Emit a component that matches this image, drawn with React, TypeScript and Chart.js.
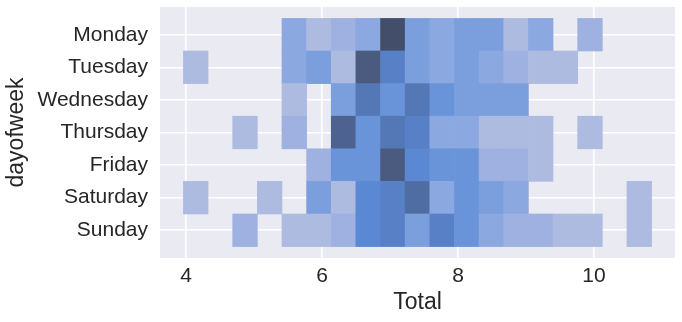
import React, { useEffect, useRef } from "react";
import { Chart, registerables } from "chart.js";

Chart.register(...registerables);

// ---- data ----
const days = ["Monday", "Tuesday", "Wednesday", "Thursday", "Friday", "Saturday", "Sunday"];
const binStart = 3.96;
const binWidth = 0.3625;
const mondayCounts = [0, 0, 0, 0, 3, 1, 2, 3, 12, 4, 3, 4, 4, 1, 3, 0, 2, 0, 0];
const tuesdayCounts = [1, 0, 0, 0, 3, 4, 1, 11, 7, 4, 3, 4, 3, 2, 1, 1, 0, 0, 0];
const wednesdayCounts = [0, 0, 0, 0, 1, 0, 4, 8, 5, 8, 5, 4, 4, 4, 0, 0, 0, 0, 0];
const thursdayCounts = [0, 0, 1, 0, 2, 0, 10, 5, 8, 7, 3, 3, 1, 1, 1, 0, 1, 0, 0];
const fridayCounts = [0, 0, 0, 0, 0, 2, 5, 5, 11, 6, 5, 5, 2, 2, 1, 0, 0, 0, 0];
const saturdayCounts = [1, 0, 0, 1, 0, 4, 1, 6, 7, 9, 3, 5, 4, 3, 0, 0, 0, 0, 1];
const sundayCounts = [0, 0, 2, 0, 1, 1, 2, 6, 7, 4, 7, 5, 3, 2, 2, 1, 1, 0, 1];
const countsByDay = [mondayCounts, tuesdayCounts, wednesdayCounts, thursdayCounts, fridayCounts, saturdayCounts, sundayCounts];
const xTicks = [4, 6, 8, 10];

// ---- style ----
const cmapStops = [
  "#ADBBE0", "#9FB1E0", "#8CA8E0", "#7B9EDD", "#6A94DA", "#5B88D2",
  "#5780C6", "#5477B6", "#4F6CA3", "#4D6290", "#4A5B7F", "#434E6A",
];
const FONT = "'Liberation Sans', Arial, sans-serif";
const TEXT = "#262626";

function hexToRgb(h: string) {
  const n = parseInt(h.slice(1), 16);
  return [(n >> 16) & 255, (n >> 8) & 255, n & 255];
}
function cmap(t: number) {
  const pos = Math.max(0, Math.min(1, t)) * (cmapStops.length - 1);
  const i = Math.min(Math.floor(pos), cmapStops.length - 2);
  const f = pos - i;
  const a = hexToRgb(cmapStops[i]);
  const b = hexToRgb(cmapStops[i + 1]);
  const c = a.map((v, k) => Math.round(v + (b[k] - v) * f));
  return `rgb(${c[0]},${c[1]},${c[2]})`;
}

const bgPlugin = {
  id: "bgPlugin",
  beforeDraw(chart: any) {
    const { ctx, chartArea } = chart;
    ctx.save();
    ctx.fillStyle = "#EAEAF2";
    ctx.fillRect(chartArea.left, chartArea.top, chartArea.right - chartArea.left, chartArea.bottom - chartArea.top);
    ctx.restore();
  },
};

export default function App() {
  const ref = useRef<HTMLCanvasElement>(null);
  useEffect(() => {
    if (!ref.current) return;
    const nBins = mondayCounts.length;
    const all = countsByDay.flat().filter((c) => c > 0);
    const cmin = Math.min(...all);
    const cmax = Math.max(...all);
    const points: any[] = [];
    const colors: string[] = [];
    countsByDay.forEach((arr, di) => {
      arr.forEach((c, bi) => {
        if (c > 0) {
          points.push({ x: [binStart + bi * binWidth, binStart + (bi + 1) * binWidth], y: di });
          colors.push(cmap((c - cmin) / (cmax - cmin)));
        }
      });
    });
    const xLo = binStart;
    const xHi = binStart + nBins * binWidth;
    const xPad = (xHi - xLo) * 0.05;
    const yPad = days.length * 0.05;

    const chart = new Chart(ref.current, {
      type: "bar",
      data: {
        datasets: [
          {
            data: points,
            backgroundColor: colors,
            borderWidth: 0,
            barPercentage: 1,
            categoryPercentage: 1,
          } as any,
        ],
      },
      options: {
        animation: false,
        responsive: false,
        indexAxis: "y",
        layout: { padding: { top: 7, right: 7, left: 0, bottom: 0 } },
        plugins: { legend: { display: false }, tooltip: { enabled: false } },
        scales: {
          x: {
            type: "linear",
            min: xLo - xPad,
            max: xHi + xPad,
            offset: false,
            afterBuildTicks: (s: any) => {
              s.ticks = xTicks.map((v) => ({ value: v }));
            },
            afterFit: (s: any) => {
              s.height = 64;
              s.paddingLeft = 0;
              s.paddingRight = 0;
            },
            grid: { color: "#FFFFFF", lineWidth: 1.6, drawTicks: false, offset: false },
            border: { display: false },
            ticks: { font: { family: FONT, size: 21 }, color: TEXT, padding: 6, maxRotation: 0 },
            title: { display: true, text: "Total", font: { family: FONT, size: 23 }, color: TEXT, padding: { top: 0, bottom: 6 } },
          },
          y: {
            type: "linear",
            reverse: true,
            offset: false,
            min: -0.5 - yPad,
            max: days.length - 0.5 + yPad,
            afterBuildTicks: (s: any) => {
              s.ticks = days.map((_, i) => ({ value: i }));
            },
            afterFit: (s: any) => {
              s.width = 160;
              s.paddingTop = 0;
              s.paddingBottom = 0;
            },
            grid: { color: "#FFFFFF", lineWidth: 1.6, drawTicks: false, offset: false },
            border: { display: false },
            ticks: {
              autoSkip: false,
              font: { family: FONT, size: 21 },
              color: TEXT,
              padding: 12,
              callback: (v: any) => days[v as number],
            },
            title: { display: true, text: "dayofweek", font: { family: FONT, size: 23 }, color: TEXT, padding: { top: 3, bottom: 0 } },
          },
        },
      } as any,
      plugins: [bgPlugin],
    });
    return () => chart.destroy();
  }, []);
  return (
    <canvas
      ref={ref}
      width={682}
      height={322}
      style={{ position: "absolute", left: 0, top: 0, width: 682, height: 322, display: "block" }}
    />
  );
}
